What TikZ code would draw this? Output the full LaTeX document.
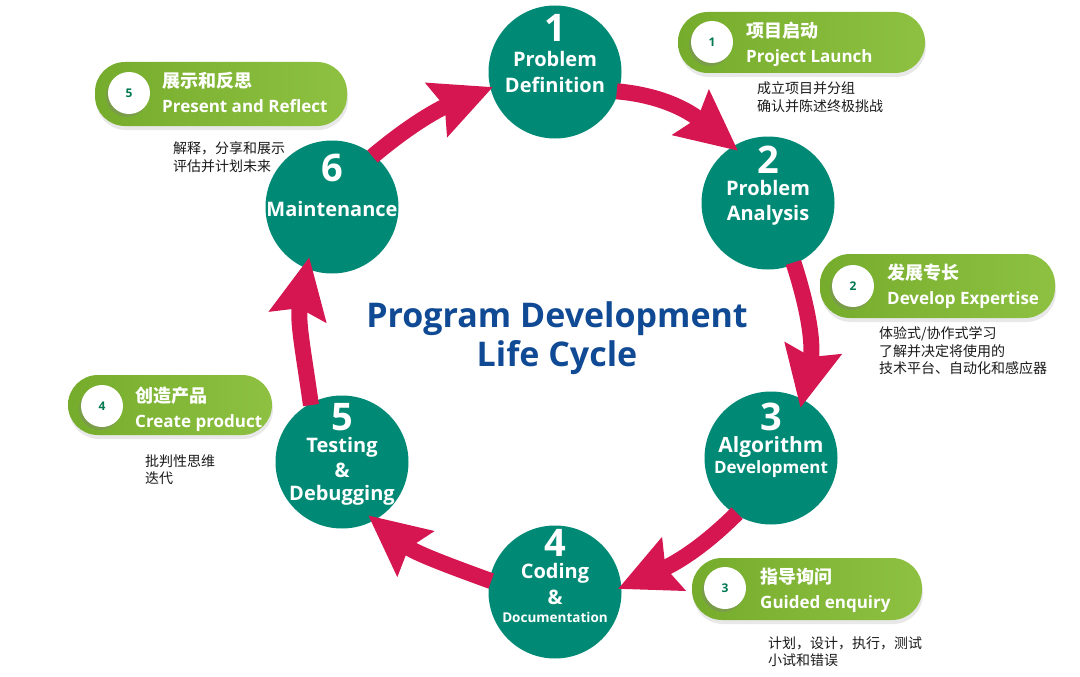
\documentclass[tikz,border=0pt]{standalone}
\usepackage{fontspec}
\setmainfont{Open Sans}
\newfontfamily\cjk{Noto Sans CJK SC}
\usetikzlibrary{arrows.meta,shadows,calc}
\definecolor{stageteal}{RGB}{0,138,117}
\definecolor{cyclered}{RGB}{213,22,80}
\definecolor{pillgreenL}{RGB}{118,172,44}
\definecolor{pillgreenR}{RGB}{142,193,66}
\definecolor{titleblue}{RGB}{16,74,148}
\definecolor{dotgreen}{RGB}{0,120,82}
\definecolor{notegray}{RGB}{25,25,25}
\tikzset{
  stage/.style={circle,fill=stageteal,minimum size=133pt,inner sep=0pt},
  stagenum/.style={text=white,font=\bfseries\fontsize{38}{38}\selectfont,inner sep=0pt},
  stagelbl/.style={text=white,font=\bfseries\fontsize{20}{24}\selectfont,align=center,inner sep=0pt},
  cyclearrow/.style={draw=cyclered,line width=16pt,shorten <=-2pt,
    -{Stealth[length=60pt,width=56pt,inset=8pt]}},
  pill/.style={rounded corners=30pt,left color=pillgreenL,right color=pillgreenR,
    drop shadow={opacity=0.18,shadow xshift=1pt,shadow yshift=-4pt}},
  pilldot/.style={circle,fill=white,minimum size=42pt,inner sep=0pt,text=dotgreen,
    font=\bfseries\fontsize{12}{12}\selectfont,
    drop shadow={opacity=0.35,shadow xshift=-2pt,shadow yshift=-3pt}},
  pilltext/.style={anchor=west,text=white,font=\bfseries\fontsize{17}{25.3}\selectfont,
    align=left,inner sep=0pt},
  pillnote/.style={anchor=north west,text=notegray,font=\cjk\fontsize{14}{17.5}\selectfont,
    align=left,inner sep=0pt}
}
\newcommand{\pillhead}[1]{{\cjk\fontsize{18}{25.3}\selectfont #1}}
\begin{document}
\begin{tikzpicture}[x=1pt,y=1pt]
\useasboundingbox (0,0) rectangle (1080,-677);

% the six stages
\node[stage] (s1) at (555,-72) {};
\node[stage] (s2) at (768,-203) {};
\node[stage] (s3) at (771,-458) {};
\node[stage] (s4) at (555,-592) {};
\node[stage] (s5) at (342,-462) {};
\node[stage] (s6) at (332,-207) {};

\node[stagenum] (s1n) at ([yshift=44pt]s1.center) {1};
\node[stagenum] (s2n) at ([yshift=43pt]s2.center) {2};
\node[stagenum] (s3n) at ([yshift=41pt]s3.center) {3};
\node[stagenum] (s4n) at ([yshift=49pt]s4.center) {4};
\node[stagenum] (s5n) at ([yshift=45pt]s5.center) {5};
\node[stagenum] (s6n) at ([yshift=39pt]s6.center) {6};

\node[stagelbl] (s1l) at (s1.center) {Problem\\[2pt]Definition};
\node[stagelbl] (s2l) at (s2.center) {Problem\\[1pt]Analysis};
\node[stagelbl] (s3l) at ([yshift=1pt]s3.center)
  {{\fontsize{21}{24}\selectfont Algorithm}\\[-2.5pt]{\fontsize{17}{24}\selectfont Development}};
\node[stagelbl] (s4l) at ([yshift=-1pt]s4.center)
  {{\fontsize{20}{24}\selectfont Coding}\\[2pt]{\fontsize{20}{24}\selectfont\&}\\[-6.7pt]{\fontsize{13.5}{24}\selectfont Documentation}};
\node[stagelbl] (s5l) at ([yshift=-9pt]s5.center) {Testing\\[1pt]\&\\[-1pt]Debugging};
\node[stagelbl] (s6l) at ([yshift=-2pt]s6.center) {Maintenance};

% the cycle
\draw[cyclearrow,shorten >=-7pt] (s1.-17) to[out=-5,in=141] (s2.122);
\draw[cyclearrow,shorten >=-9pt] (s2.-67) to[out=-72,in=78] (s3.62);
\draw[cyclearrow,shorten >=-4pt] (s3.-122) to[out=-135,in=24] (s4.4);
\draw[cyclearrow,shorten >=-8pt] (s4.170) to[out=160,in=-39] (s5.-61);
\draw[cyclearrow,shorten >=-12pt] (s5.118) to[out=98,in=-101] (s6.-112);
\draw[cyclearrow,shorten >=-3pt] (s6.51) to[out=40,in=-158] (s1.-166);

\node[text=titleblue,font=\bfseries\fontsize{34}{39}\selectfont,align=center] (title)
  at (557,-338.5) {Program Development\\Life Cycle};

% the five pills
\node[pill,minimum width=247pt,minimum height=61pt] (p1) at (801.5,-42.5) {};
\node[pill,minimum width=235pt,minimum height=64pt] (p2) at (937.5,-286) {};
\node[pill,minimum width=230pt,minimum height=62pt] (p3) at (807,-589) {};
\node[pill,minimum width=204pt,minimum height=60pt] (p4) at (170,-405) {};
\node[pill,minimum width=252pt,minimum height=64pt] (p5) at (221,-94) {};

\node[pilldot] (d1) at (712,-42) {1};
\node[pilldot] (d2) at (853,-286) {2};
\node[pilldot] (d3) at (725,-588) {3};
\node[pilldot] (d4) at (102,-406) {4};
\node[pilldot] (d5) at (129,-93) {5};

\node[pilltext] (t1) at (746,-44.5) {\pillhead{项目启动}\\Project Launch};
\node[pilltext] (t2) at (887,-286.5) {\pillhead{发展专长}\\Develop Expertise};
\node[pilltext] (t3) at (760,-590.5) {\pillhead{指导询问}\\Guided enquiry};
\node[pilltext] (t4) at (135,-409.5) {\pillhead{创造产品}\\Create product};
\node[pilltext] (t5) at (162,-92.5) {\pillhead{展示和反思}\\Present and Reflect};

\node[pillnote] (n1) at (757,-81.5) {成立项目并分组\\确认并陈述终极挑战};
\node[pillnote] (n2) at (879,-326.5) {体验式/协作式学习\\了解并决定将使用的\\技术平台、自动化和感应器};
\node[pillnote] (n3) at (768,-636.5) {计划，设计，执行，测试\\小试和错误};
\node[pillnote] (n4) at (145,-454.5) {批判性思维\\迭代};
\node[pillnote] (n5) at (173,-141.5) {解释，分享和展示\\评估并计划未来};
\end{tikzpicture}
\end{document}
